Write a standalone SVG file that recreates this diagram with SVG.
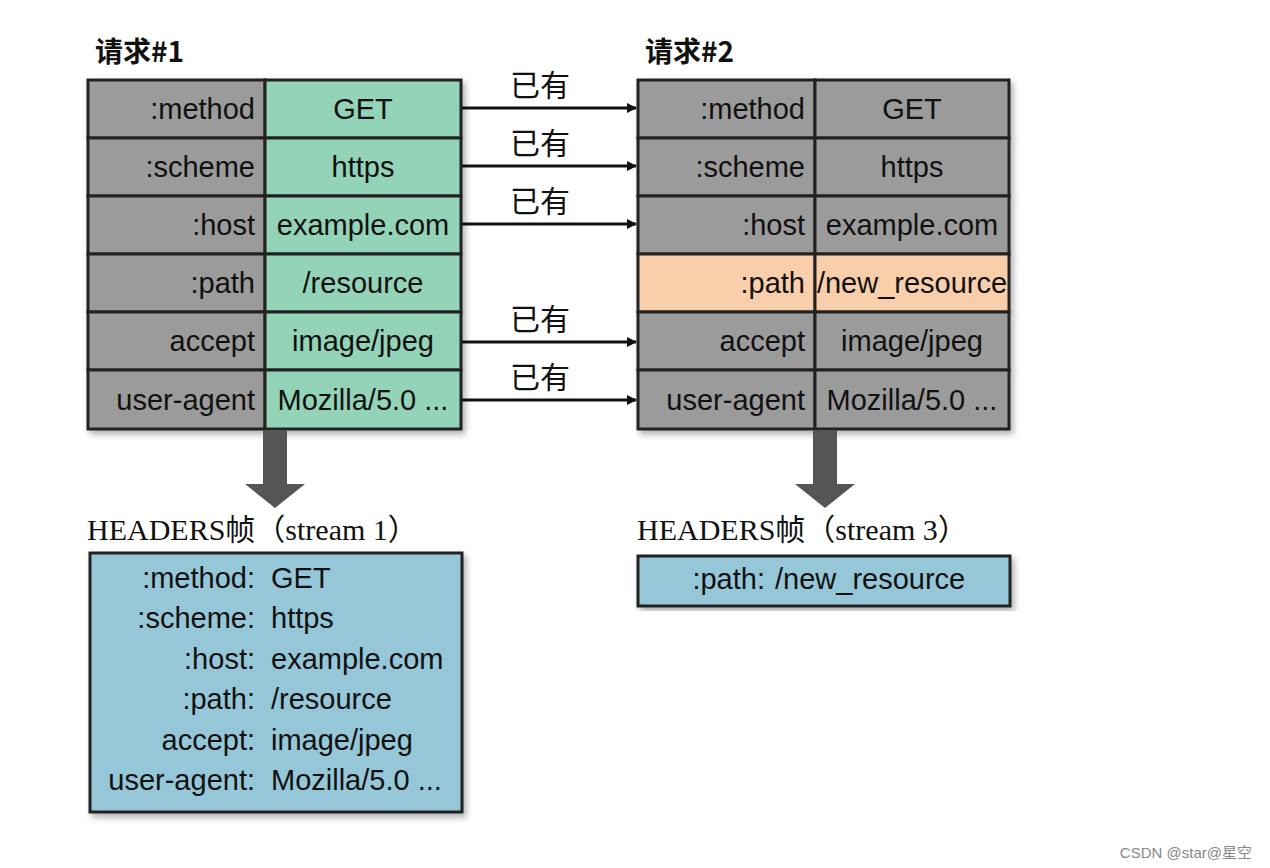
<svg xmlns="http://www.w3.org/2000/svg" width="1270" height="868" viewBox="0 0 1270 868">
<defs>
<marker id="ah" markerWidth="10" markerHeight="10" refX="9" refY="5" orient="auto" markerUnits="userSpaceOnUse" viewBox="0 0 10 10"><path d="M0,0 L10,5 L0,10 z" fill="#111"/></marker>
<filter id="sh" x="-5%" y="-5%" width="115%" height="115%"><feDropShadow dx="3" dy="4" stdDeviation="3" flood-color="#000" flood-opacity="0.3"/></filter>
</defs>
<style>
.g{fill:#9b9b9b;stroke:#222;stroke-width:3}
.v{fill:#93d3b8;stroke:#222;stroke-width:3}
.p{fill:#f8cfaa;stroke:#222;stroke-width:3}
.b{fill:#95c7d8;stroke:#222;stroke-width:3}
text{font-family:"Liberation Sans Narrow","Liberation Sans",Arial,sans-serif;font-size:29px;fill:#111}
.r{text-anchor:end}.m{text-anchor:middle}
.t{font-family:"Noto Sans CJK SC",sans-serif;font-size:28px;font-weight:bold}
.h{font-family:"Liberation Serif","Noto Sans CJK SC",serif;font-size:30px}
.c{font-family:"Noto Sans CJK SC",sans-serif;font-size:30px;text-anchor:middle}
.ln{stroke:#111;stroke-width:3;fill:none}
</style>
<rect width="1270" height="868" fill="#fff"/>
<text x="95" y="62" class="t">请求#1</text>
<text x="645" y="62" class="t">请求#2</text>
<g id="req1" filter="url(#sh)">
<rect class="g" x="88" y="80" width="177" height="58"/><rect class="v" x="265" y="80" width="196" height="58"/>
<rect class="g" x="88" y="138" width="177" height="58"/><rect class="v" x="265" y="138" width="196" height="58"/>
<rect class="g" x="88" y="196" width="177" height="58"/><rect class="v" x="265" y="196" width="196" height="58"/>
<rect class="g" x="88" y="254" width="177" height="58"/><rect class="v" x="265" y="254" width="196" height="58"/>
<rect class="g" x="88" y="312" width="177" height="58"/><rect class="v" x="265" y="312" width="196" height="58"/>
<rect class="g" x="88" y="370" width="177" height="59"/><rect class="v" x="265" y="370" width="196" height="59"/>
</g>
<g id="req1text">
<text x="255" y="119" class="r">:method</text><text x="363" y="119" class="m">GET</text>
<text x="255" y="177" class="r">:scheme</text><text x="363" y="177" class="m">https</text>
<text x="255" y="235" class="r">:host</text><text x="363" y="235" class="m">example.com</text>
<text x="255" y="293" class="r">:path</text><text x="363" y="293" class="m">/resource</text>
<text x="255" y="351" class="r">accept</text><text x="363" y="351" class="m">image/jpeg</text>
<text x="255" y="410" class="r">user-agent</text><text x="363" y="410" class="m">Mozilla/5.0 ...</text>
</g>
<g id="req2" filter="url(#sh)">
<rect class="g" x="638" y="80" width="177" height="58"/><rect class="g" x="815" y="80" width="194" height="58"/>
<rect class="g" x="638" y="138" width="177" height="58"/><rect class="g" x="815" y="138" width="194" height="58"/>
<rect class="g" x="638" y="196" width="177" height="58"/><rect class="g" x="815" y="196" width="194" height="58"/>
<rect class="p" x="638" y="254" width="177" height="58"/><rect class="p" x="815" y="254" width="194" height="58"/>
<rect class="g" x="638" y="312" width="177" height="58"/><rect class="g" x="815" y="312" width="194" height="58"/>
<rect class="g" x="638" y="370" width="177" height="59"/><rect class="g" x="815" y="370" width="194" height="59"/>
</g>
<g id="req2text">
<text x="805" y="119" class="r">:method</text><text x="912" y="119" class="m">GET</text>
<text x="805" y="177" class="r">:scheme</text><text x="912" y="177" class="m">https</text>
<text x="805" y="235" class="r">:host</text><text x="912" y="235" class="m">example.com</text>
<text x="805" y="293" class="r">:path</text><text x="912" y="293" class="m">/new_resource</text>
<text x="805" y="351" class="r">accept</text><text x="912" y="351" class="m">image/jpeg</text>
<text x="805" y="410" class="r">user-agent</text><text x="912" y="410" class="m">Mozilla/5.0 ...</text>
</g>
<g id="connectors">
<line class="ln" x1="462" y1="108" x2="636" y2="108" marker-end="url(#ah)"/>
<line class="ln" x1="462" y1="166" x2="636" y2="166" marker-end="url(#ah)"/>
<line class="ln" x1="462" y1="224" x2="636" y2="224" marker-end="url(#ah)"/>
<line class="ln" x1="462" y1="342" x2="636" y2="342" marker-end="url(#ah)"/>
<line class="ln" x1="462" y1="400" x2="636" y2="400" marker-end="url(#ah)"/>
<text x="540" y="96" class="c">已有</text>
<text x="540" y="154" class="c">已有</text>
<text x="540" y="212" class="c">已有</text>
<text x="540" y="330" class="c">已有</text>
<text x="540" y="388" class="c">已有</text>
<path d="M263,430 H287 V484 H305 L275,508 L245,484 H263 Z" fill="#555"/>
<path d="M813,430 H837 V484 H855 L825,508 L795,484 H813 Z" fill="#555"/>
</g>
<text x="87" y="540" class="h">HEADERS帧（stream 1）</text>
<text x="637" y="540" class="h">HEADERS帧（stream 3）</text>
<g id="frame1">
<rect class="b" x="90" y="553" width="372" height="259" filter="url(#sh)"/>
<text x="255" y="588" class="r">:method:</text><text x="271" y="588">GET</text>
<text x="255" y="628" class="r">:scheme:</text><text x="271" y="628">https</text>
<text x="255" y="669" class="r">:host:</text><text x="271" y="669">example.com</text>
<text x="255" y="709" class="r">:path:</text><text x="271" y="709">/resource</text>
<text x="255" y="750" class="r">accept:</text><text x="271" y="750">image/jpeg</text>
<text x="255" y="790" class="r">user-agent:</text><text x="271" y="790">Mozilla/5.0 ...</text>
</g>
<g id="frame3">
<rect class="b" x="638" y="556" width="372" height="50" filter="url(#sh)"/>
<text x="765" y="589" class="r">:path:</text><text x="775" y="589">/new_resource</text>
</g>
<text x="1252" y="858" text-anchor="end" style="font-family:'Liberation Sans','Noto Sans CJK SC',sans-serif;font-size:15px;fill:#888">CSDN @star@星空</text>
</svg>
